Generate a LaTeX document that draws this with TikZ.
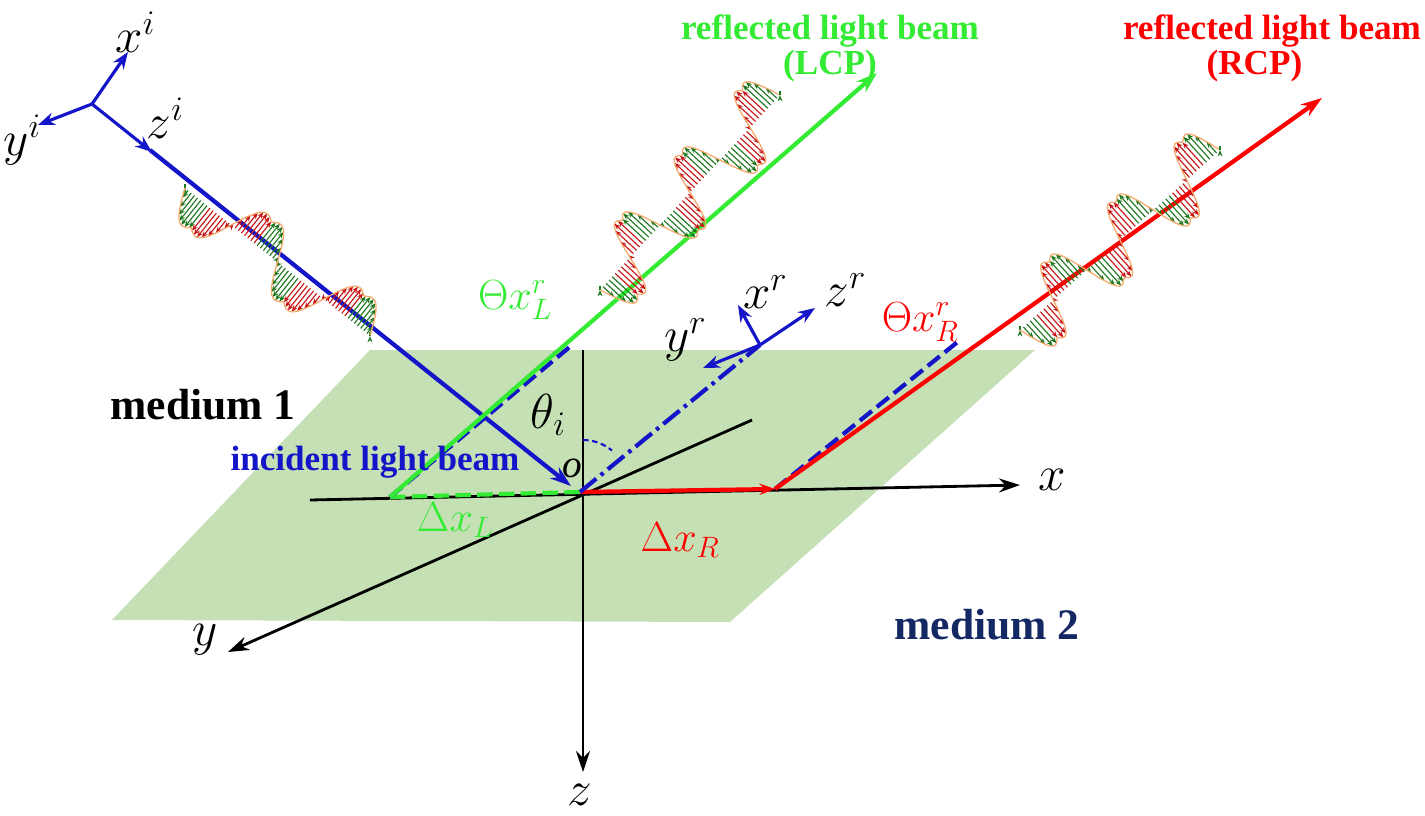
\RequirePackage{fix-cm}
\documentclass[tikz,border=0pt]{standalone}
\usepackage{fontspec}
\setmainfont{Liberation Serif}
\usetikzlibrary{calc,arrows.meta}
\definecolor{bl}{RGB}{20,20,200}
\definecolor{gr}{RGB}{50,235,50}
\definecolor{rd}{RGB}{255,0,0}
\definecolor{pl}{RGB}{197,224,180}
\definecolor{navy}{RGB}{20,40,100}
\definecolor{dgr}{RGB}{30,120,30}
\definecolor{dred}{RGB}{200,20,20}
\definecolor{org}{RGB}{245,170,110}
\tikzset{
 ax/.style={line width=4pt,-{Stealth[length=30pt,width=20pt]}},
 beam/.style={line width=6pt,-{Stealth[length=30pt,width=20pt]}},
 small/.style={line width=4.5pt,-{Stealth[length=24pt,width=18pt]}},
 lab/.style={font=\fontsize{50}{54}\selectfont\bfseries},
 big/.style={font=\fontsize{62}{66}\selectfont\bfseries},
 mlab/.style={font=\fontsize{70}{74}\selectfont},
 slab/.style={font=\fontsize{60}{64}\selectfont},
 dsh/.style={line width=6pt,dash pattern=on 22pt off 9pt},
}
\newcommand{\helix}[6]{%
 \pgfmathsetmacro{\dx}{#3-#1}\pgfmathsetmacro{\dy}{#4-#2}
 \pgfmathsetmacro{\len}{veclen(\dx,\dy)}
 \pgfmathsetmacro{\nx}{-\dy/\len}\pgfmathsetmacro{\ny}{\dx/\len}
 \foreach \k in {0,...,59}{
  \pgfmathsetmacro{\px}{#1+\k/59*\dx}
  \pgfmathsetmacro{\py}{#2+\k/59*\dy}
  \pgfmathsetmacro{\s}{#6*sin(\k/59*360*#5)*(0.6+0.4*abs(cos(\k/59*180*#5*2)))}
  \pgfmathsetmacro{\c}{cos(\k/59*360*#5)}
  \ifdim \c pt>0pt \def\cc{dgr}\else\def\cc{dred}\fi
  \draw[\cc,line width=1.6pt,-{Stealth[length=9pt,width=7pt]}] (\px,\py) -- (\px+\s*\nx,\py+\s*\ny);
 }
 \draw[org,line width=1.8pt,domain=0:1,samples=120] plot ({#1+\x*\dx+#6*sin(\x*360*#5)*(0.6+0.4*abs(cos(\x*180*#5*2)))*\nx},{#2+\x*\dy+#6*sin(\x*360*#5)*(0.6+0.4*abs(cos(\x*180*#5*2)))*\ny});
}
\begin{document}
\begin{tikzpicture}[x=0.05cm,y=-0.05cm]
\useasboundingbox (0,0) rectangle (1425,815);
\fill[pl] (370,350) -- (1035,350) -- (730,622) -- (112,620) -- cycle;
\coordinate (O) at (580,492);
\coordinate (xs) at (310,500);
\coordinate (xe) at (1020,485);
\coordinate (zs) at (583,350);
\coordinate (ze) at (583,772);
\coordinate (ys) at (752,420);
\coordinate (ye) at (228,652);
\coordinate (L) at (390,497);
\coordinate (R) at (775,489);
\draw[ax] (xs) -- (xe);
\draw[ax] (zs) -- (ze);
\draw[ax] (ys) -- (ye);
\node[mlab] (xl) at (1052,480) {$x$};
\node[mlab] (zl) at (580,795) {$z$};
\node[mlab] (yl) at (205,640) {$y$};
\draw[gr,dsh] (L) -- (O);
\draw[rd,line width=6pt,-{Stealth[length=22pt,width=16pt]}] (O) -- (R);
\draw[bl,line width=6pt,dash pattern=on 30pt off 8pt on 5pt off 8pt] (O) -- (760,345);
\draw[bl,dsh] (L) -- (572,345);
\draw[bl,dsh] (R) -- (960,340);
\coordinate (io) at (92,104);
\coordinate (ie) at (150,150);
\draw[bl,beam] (ie) -- (571,486);
\draw[bl,small] (io) -- (128,52);
\draw[bl,small] (io) -- (38,125);
\draw[bl,small] (io) -- (152,152);
\node[mlab] at (135,32) {$x^i$};
\node[mlab] at (22,140) {$y^i$};
\node[mlab] at (165,118) {$z^i$};
\helix{185}{188}{370}{336}{2}{45}
\draw[gr,beam] (L) -- (877,73);
\draw[rd,beam] (R) -- (1322,98);
\helix{600}{290}{780}{95}{3}{50}
\helix{1020}{330}{1220}{150}{3}{50}
\coordinate (ro) at (760,345);
\draw[bl,small] (ro) -- (738,305);
\draw[bl,small] (ro) -- (815,308);
\draw[bl,small] (ro) -- (703,368);
\node[mlab] at (765,292) {$x^r$};
\node[mlab] at (845,290) {$z^r$};
\node[mlab] at (685,340) {$y^r$};
\draw[bl,line width=3pt,dash pattern=on 8pt off 5pt] (583,440) arc[start angle=-90,end angle=-50,radius=45];
\node[mlab] at (548,415) {$\theta_i$};
\node[font=\fontsize{56}{60}\selectfont\itshape] at (572,468) {o};
\node[gr,lab,align=center] at (830,48) {reflected light beam\\[-4pt](LCP)};
\node[rd,lab,align=center] at (1272,48) {reflected light beam\\[-4pt]\hspace*{-1em}(RCP)};
\node[big] at (203,405) {medium 1};
\node[big,navy] at (987,625) {medium 2};
\node[bl,lab] at (375,462) {incident light beam};
\node[gr,slab] at (455,520) {$\Delta x_L$};
\node[rd,slab] at (680,540) {$\Delta x_R$};
\node[gr,slab] at (515,300) {$\Theta x_L^r$};
\node[rd,slab] at (920,322) {$\Theta x_R^r$};
\end{tikzpicture}
\end{document}
